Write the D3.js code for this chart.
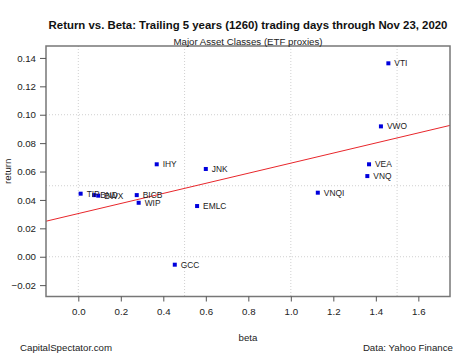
<!DOCTYPE html>
<html><head><meta charset="utf-8">
<script src="https://cdn.jsdelivr.net/npm/d3@7"></script>
<style>body{margin:0;background:#fff}svg{display:block;font-family:"Liberation Sans",Arial,sans-serif}</style>
</head><body><div id="chart"></div>
<script>
const tickers = ["VTI","VWO","VEA","VNQ","VNQI","IHY","JNK","TIP","BND","BWX","BICB","WIP","EMLC","GCC"];
const betas   = [1.459,1.424,1.368,1.360,1.127,0.369,0.600,0.011,0.075,0.094,0.275,0.284,0.559,0.454];
const returns = [0.1362,0.0918,0.0651,0.0568,0.0451,0.0651,0.0618,0.0444,0.0434,0.0430,0.0434,0.0380,0.0357,-0.0056];
const xTicks = [0,0.2,0.4,0.6,0.8,1.0,1.2,1.4,1.6];
const yTicks = [-0.02,0,0.02,0.04,0.06,0.08,0.10,0.12,0.14];
const xGrid = [0,0.5,1.0,1.5];
const yGrid = [0,0.05,0.10];
const fitIntercept = 0.0304, fitSlope = 0.0355;

const W=474,H=355;
const L=46,R=450,T=46,B=296.5;
const x = d3.scaleLinear().domain([-0.152,1.749]).range([L,R]);
const y = d3.scaleLinear().domain([-0.0280,0.1484]).range([B,T]);

const svg = d3.select("#chart").append("svg").attr("width",W).attr("height",H);

// grid
const g = svg.append("g");
g.selectAll(".vg").data(xGrid).join("line")
  .attr("x1",d=>x(d)).attr("x2",d=>x(d)).attr("y1",T).attr("y2",B)
  .attr("stroke","#d0d0d0").attr("stroke-dasharray","1,2");
g.selectAll(".hg").data(yGrid).join("line")
  .attr("y1",d=>y(d)).attr("y2",d=>y(d)).attr("x1",L).attr("x2",R)
  .attr("stroke","#d0d0d0").attr("stroke-dasharray","1,2");

// regression line
const clip = svg.append("clipPath").attr("id","clip").append("rect")
  .attr("x",L).attr("y",T).attr("width",R-L).attr("height",B-T);
const xd = x.domain();
svg.append("line").attr("clip-path","url(#clip)")
  .attr("x1",x(xd[0])).attr("y1",y(fitIntercept+fitSlope*xd[0]))
  .attr("x2",x(xd[1])).attr("y2",y(fitIntercept+fitSlope*xd[1]))
  .attr("stroke","#e8262b").attr("stroke-width",1);

// points
const data = tickers.map((t,i)=>({t,b:betas[i],r:returns[i]}));
svg.selectAll(".pt").data(data).join("rect")
  .attr("x",d=>x(d.b)-2).attr("y",d=>y(d.r)-2).attr("width",4).attr("height",4)
  .attr("fill","#0000dd");
svg.selectAll(".lb").data(data).join("text")
  .attr("x",d=>x(d.b)+6).attr("y",d=>y(d.r)).attr("dy","0.35em")
  .attr("font-size",8.4).attr("fill","#222").text(d=>d.t);

// box
svg.append("rect").attr("x",L).attr("y",T).attr("width",R-L).attr("height",B-T)
  .attr("fill","none").attr("stroke","#777").attr("stroke-width",1.5);

// axes
const xa = svg.append("g").attr("transform",`translate(0,${B})`)
  .call(d3.axisBottom(x).tickValues(xTicks).tickFormat(d3.format(".1f")).tickSize(5).tickPadding(7));
const ya = svg.append("g").attr("transform",`translate(${L},0)`)
  .call(d3.axisLeft(y).tickValues(yTicks).tickFormat(d3.format(".2f")).tickSize(6).tickPadding(4));
[xa,ya].forEach(a=>{
  a.select(".domain").remove();
  a.selectAll(".tick line").attr("stroke","#555");
  a.selectAll(".tick text").attr("fill","#222").attr("font-size",9.7).attr("font-family","Liberation Sans, Arial, sans-serif");
});

// texts
svg.append("text").attr("x",(L+R)/2).attr("y",29).attr("text-anchor","middle")
  .attr("font-weight","bold").attr("font-size",11.4).attr("fill","#111")
  .text("Return vs. Beta: Trailing 5 years (1260) trading days through Nov 23, 2020");
svg.append("text").attr("x",(L+R)/2).attr("y",44.5).attr("text-anchor","middle")
  .attr("font-size",9.7).attr("fill","#222").text("Major Asset Classes (ETF proxies)");
svg.append("text").attr("x",(L+R)/2).attr("y",341).attr("text-anchor","middle")
  .attr("font-size",9.7).attr("fill","#222").text("beta");
svg.append("text").attr("transform",`translate(10.5,${(T+B)/2}) rotate(-90)`).attr("text-anchor","middle")
  .attr("font-size",9.7).attr("fill","#222").text("return");
svg.append("text").attr("x",20).attr("y",351).attr("font-size",9.7).attr("fill","#222").text("CapitalSpectator.com");
svg.append("text").attr("x",453).attr("y",351).attr("text-anchor","end").attr("font-size",9.7).attr("fill","#222").text("Data: Yahoo Finance");
</script></body></html>
